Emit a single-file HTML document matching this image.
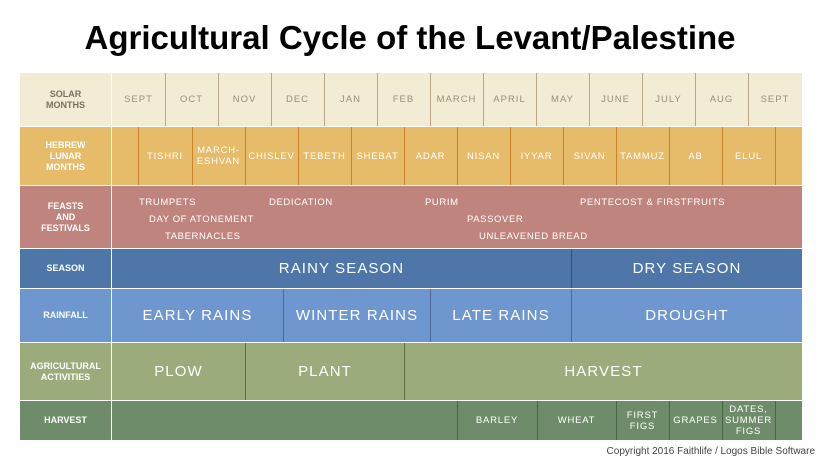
<!DOCTYPE html>
<html><head><meta charset="utf-8"><style>
*{margin:0;padding:0;box-sizing:border-box}
body{width:820px;height:461px;background:#fff;position:relative;overflow:hidden;font-family:"Liberation Sans",Arial,sans-serif}
.a{position:absolute}
.r{position:absolute;left:20px;width:782px}
.lab{position:absolute;left:20px;width:91px;display:flex;align-items:center;justify-content:center;text-align:center;font-weight:bold;font-size:9px;line-height:11px;color:#fff}
.c{position:absolute;display:flex;align-items:center;justify-content:center;text-align:center;letter-spacing:1px}
.v{position:absolute;width:1px}
.sm{font-size:9.5px;color:#9a8e78}
.hb{font-size:9.5px;color:#fff;line-height:11px;letter-spacing:0.8px}
.big{font-size:15px;color:#fff;letter-spacing:1.1px}
.ft{position:absolute;font-size:9.5px;color:#fff;letter-spacing:0.6px;white-space:nowrap}
</style></head><body>
<div class="a" style="left:0;width:820px;top:19px;text-align:center;font-size:33px;font-weight:bold;color:#000">Agricultural Cycle of the Levant/Palestine</div>

<div class="r" style="top:73px;height:53px;background:#f2ecd4"></div>
<div class="r" style="top:127px;height:58px;background:#e6bb69"></div>
<div class="r" style="top:186px;height:62px;background:#c0847e"></div>
<div class="r" style="top:249px;height:39px;background:#4e76a8"></div>
<div class="r" style="top:289px;height:53px;background:#6f97cf"></div>
<div class="r" style="top:343px;height:57px;background:#9cab7b"></div>
<div class="r" style="top:401px;height:39px;background:#6e8c6a"></div>
<div class="a" style="left:111px;top:73px;width:1px;height:367px;background:#fff"></div>

<div class="lab" style="top:73px;height:53px;color:#7a7060">SOLAR<br>MONTHS</div>
<div class="lab" style="top:127px;height:58px">HEBREW<br>LUNAR<br>MONTHS</div>
<div class="lab" style="top:186px;height:62px">FEASTS<br>AND<br>FESTIVALS</div>
<div class="lab" style="top:249px;height:39px">SEASON</div>
<div class="lab" style="top:289px;height:53px">RAINFALL</div>
<div class="lab" style="top:343px;height:57px">AGRICULTURAL<br>ACTIVITIES</div>
<div class="lab" style="top:401px;height:39px">HARVEST</div>

<div class="c sm" style="left:112px;top:73px;width:53px;height:53px">SEPT</div>
<div class="c sm" style="left:165px;top:73px;width:53px;height:53px">OCT</div>
<div class="c sm" style="left:218px;top:73px;width:53px;height:53px">NOV</div>
<div class="c sm" style="left:271px;top:73px;width:53px;height:53px">DEC</div>
<div class="c sm" style="left:324px;top:73px;width:53px;height:53px">JAN</div>
<div class="c sm" style="left:377px;top:73px;width:53px;height:53px">FEB</div>
<div class="c sm" style="left:430px;top:73px;width:53px;height:53px">MARCH</div>
<div class="c sm" style="left:483px;top:73px;width:53px;height:53px">APRIL</div>
<div class="c sm" style="left:536px;top:73px;width:53px;height:53px">MAY</div>
<div class="c sm" style="left:589px;top:73px;width:53px;height:53px">JUNE</div>
<div class="c sm" style="left:642px;top:73px;width:53px;height:53px">JULY</div>
<div class="c sm" style="left:695px;top:73px;width:53px;height:53px">AUG</div>
<div class="c sm" style="left:748px;top:73px;width:54px;height:53px">SEPT</div>
<div class="v" style="left:165px;top:73px;height:53px;background:#b8a88a"></div>
<div class="v" style="left:218px;top:73px;height:53px;background:#b8a88a"></div>
<div class="v" style="left:271px;top:73px;height:53px;background:#b8a88a"></div>
<div class="v" style="left:324px;top:73px;height:53px;background:#b8a88a"></div>
<div class="v" style="left:377px;top:73px;height:53px;background:#b8a88a"></div>
<div class="v" style="left:430px;top:73px;height:53px;background:#b8a88a"></div>
<div class="v" style="left:483px;top:73px;height:53px;background:#b8a88a"></div>
<div class="v" style="left:536px;top:73px;height:53px;background:#b8a88a"></div>
<div class="v" style="left:589px;top:73px;height:53px;background:#b8a88a"></div>
<div class="v" style="left:642px;top:73px;height:53px;background:#b8a88a"></div>
<div class="v" style="left:695px;top:73px;height:53px;background:#b8a88a"></div>
<div class="v" style="left:748px;top:73px;height:53px;background:#b8a88a"></div>

<div class="c hb" style="left:138px;top:127px;width:54px;height:58px">TISHRI</div>
<div class="c hb" style="left:192px;top:127px;width:53px;height:58px">MARCH-<br>ESHVAN</div>
<div class="c hb" style="left:245px;top:127px;width:53px;height:58px">CHISLEV</div>
<div class="c hb" style="left:298px;top:127px;width:53px;height:58px">TEBETH</div>
<div class="c hb" style="left:351px;top:127px;width:53px;height:58px">SHEBAT</div>
<div class="c hb" style="left:404px;top:127px;width:53px;height:58px">ADAR</div>
<div class="c hb" style="left:457px;top:127px;width:53px;height:58px">NISAN</div>
<div class="c hb" style="left:510px;top:127px;width:53px;height:58px">IYYAR</div>
<div class="c hb" style="left:563px;top:127px;width:53px;height:58px">SIVAN</div>
<div class="c hb" style="left:616px;top:127px;width:53px;height:58px">TAMMUZ</div>
<div class="c hb" style="left:669px;top:127px;width:53px;height:58px">AB</div>
<div class="c hb" style="left:722px;top:127px;width:53px;height:58px">ELUL</div>
<div class="v" style="left:138px;top:127px;height:58px;background:#c9822f"></div>
<div class="v" style="left:192px;top:127px;height:58px;background:#c9822f"></div>
<div class="v" style="left:245px;top:127px;height:58px;background:#c9822f"></div>
<div class="v" style="left:298px;top:127px;height:58px;background:#c9822f"></div>
<div class="v" style="left:351px;top:127px;height:58px;background:#c9822f"></div>
<div class="v" style="left:404px;top:127px;height:58px;background:#c9822f"></div>
<div class="v" style="left:457px;top:127px;height:58px;background:#c9822f"></div>
<div class="v" style="left:510px;top:127px;height:58px;background:#c9822f"></div>
<div class="v" style="left:563px;top:127px;height:58px;background:#c9822f"></div>
<div class="v" style="left:616px;top:127px;height:58px;background:#c9822f"></div>
<div class="v" style="left:669px;top:127px;height:58px;background:#c9822f"></div>
<div class="v" style="left:722px;top:127px;height:58px;background:#c9822f"></div>
<div class="v" style="left:775px;top:127px;height:58px;background:#c9822f"></div>

<div class="ft" style="left:139px;top:197px">TRUMPETS</div>
<div class="ft" style="left:149px;top:214px">DAY OF ATONEMENT</div>
<div class="ft" style="left:165px;top:231px">TABERNACLES</div>
<div class="ft" style="left:269px;top:197px">DEDICATION</div>
<div class="ft" style="left:425px;top:197px">PURIM</div>
<div class="ft" style="left:467px;top:214px">PASSOVER</div>
<div class="ft" style="left:479px;top:231px">UNLEAVENED BREAD</div>
<div class="ft" style="left:580px;top:197px">PENTECOST &amp; FIRSTFRUITS</div>

<div class="c big" style="left:112px;top:249px;width:459px;height:39px">RAINY SEASON</div>
<div class="c big" style="left:572px;top:249px;width:230px;height:39px">DRY SEASON</div>
<div class="v" style="left:571px;top:249px;height:39px;background:#2f4f78"></div>

<div class="c big" style="left:112px;top:289px;width:171px;height:53px">EARLY RAINS</div>
<div class="c big" style="left:284px;top:289px;width:146px;height:53px">WINTER RAINS</div>
<div class="c big" style="left:431px;top:289px;width:140px;height:53px">LATE RAINS</div>
<div class="c big" style="left:572px;top:289px;width:230px;height:53px">DROUGHT</div>
<div class="v" style="left:283px;top:289px;height:53px;background:#4a6a9c"></div>
<div class="v" style="left:430px;top:289px;height:53px;background:#4a6a9c"></div>
<div class="v" style="left:571px;top:289px;height:53px;background:#4a6a9c"></div>

<div class="c big" style="left:112px;top:343px;width:133px;height:57px">PLOW</div>
<div class="c big" style="left:246px;top:343px;width:158px;height:57px">PLANT</div>
<div class="c big" style="left:405px;top:343px;width:397px;height:57px">HARVEST</div>
<div class="v" style="left:245px;top:343px;height:57px;background:#5e7046"></div>
<div class="v" style="left:404px;top:343px;height:57px;background:#5e7046"></div>

<div class="c hb" style="left:457px;top:401px;width:80px;height:39px">BARLEY</div>
<div class="c hb" style="left:537px;top:401px;width:79px;height:39px">WHEAT</div>
<div class="c hb" style="left:616px;top:401px;width:53px;height:39px">FIRST<br>FIGS</div>
<div class="c hb" style="left:669px;top:401px;width:53px;height:39px">GRAPES</div>
<div class="c hb" style="left:722px;top:401px;width:53px;height:39px">DATES,<br>SUMMER<br>FIGS</div>
<div class="v" style="left:457px;top:401px;height:39px;background:#4a6448"></div>
<div class="v" style="left:537px;top:401px;height:39px;background:#4a6448"></div>
<div class="v" style="left:616px;top:401px;height:39px;background:#4a6448"></div>
<div class="v" style="left:669px;top:401px;height:39px;background:#4a6448"></div>
<div class="v" style="left:722px;top:401px;height:39px;background:#4a6448"></div>
<div class="v" style="left:775px;top:401px;height:39px;background:#4a6448"></div>

<div class="a" style="right:5px;top:446px;font-size:10px;color:#444">Copyright 2016 Faithlife / Logos Bible Software</div>
</body></html>
